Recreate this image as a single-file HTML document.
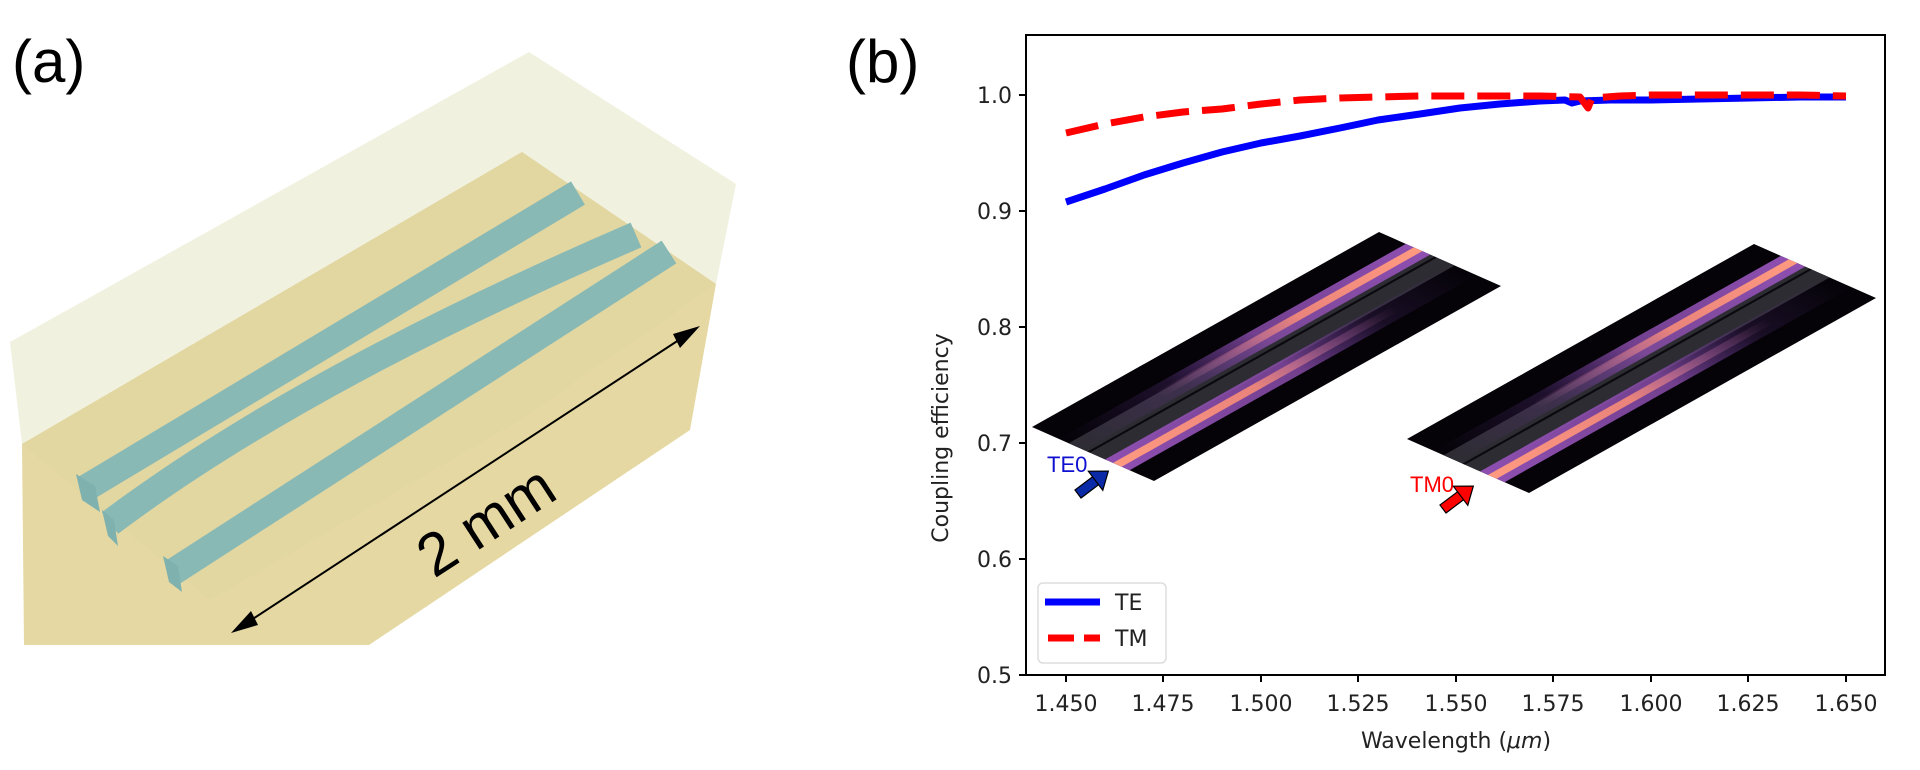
<!DOCTYPE html>
<html><head><meta charset="utf-8"><style>
html,body{margin:0;padding:0;background:#fff;}
svg{display:block;font-family:"DejaVu Sans","Liberation Sans",sans-serif;}
</style></head><body>
<svg width="1920" height="770" viewBox="0 0 1920 770" xmlns="http://www.w3.org/2000/svg">
<defs>
 <linearGradient id="haloL" x1="0" y1="0" x2="1" y2="0">
  <stop offset="0" stop-color="#8e4fb0" stop-opacity="1"/>
  <stop offset="0.5" stop-color="#8e4fb0" stop-opacity="0.8"/>
  <stop offset="0.75" stop-color="#6a3a9a" stop-opacity="0.2"/>
  <stop offset="1" stop-color="#6a3a9a" stop-opacity="0"/>
 </linearGradient>
 <linearGradient id="coreL" x1="0" y1="0" x2="1" y2="0">
  <stop offset="0" stop-color="#ff9a80" stop-opacity="1"/>
  <stop offset="0.4" stop-color="#f58a78" stop-opacity="0.9"/>
  <stop offset="0.65" stop-color="#c070a0" stop-opacity="0.3"/>
  <stop offset="0.8" stop-color="#c070a0" stop-opacity="0"/>
 </linearGradient>
 <linearGradient id="haloU" x1="0" y1="0" x2="1" y2="0">
  <stop offset="0" stop-color="#6a3a9a" stop-opacity="0"/>
  <stop offset="0.3" stop-color="#6a3a9a" stop-opacity="0.25"/>
  <stop offset="0.55" stop-color="#8e4fb0" stop-opacity="0.8"/>
  <stop offset="1" stop-color="#8e4fb0" stop-opacity="1"/>
 </linearGradient>
 <linearGradient id="coreU" x1="0" y1="0" x2="1" y2="0">
  <stop offset="0.25" stop-color="#c070a0" stop-opacity="0"/>
  <stop offset="0.45" stop-color="#d07890" stop-opacity="0.4"/>
  <stop offset="0.65" stop-color="#f58a78" stop-opacity="0.9"/>
  <stop offset="1" stop-color="#ff9a80" stop-opacity="1"/>
 </linearGradient>
 <g id="inset">
  <rect x="0" y="0" width="1" height="1" fill="#050308"/>
  <rect x="0" y="0.3" width="1" height="0.32" fill="#2e2c33"/>
  <rect x="0" y="0.455" width="1" height="0.02" fill="#0a0a0e"/>
  <rect x="0" y="0.6" width="1" height="0.2" fill="url(#haloL)"/>
  <rect x="0" y="0.665" width="1" height="0.07" fill="url(#coreL)"/>
  <rect x="0" y="0.22" width="1" height="0.2" fill="url(#haloU)"/>
  <rect x="0" y="0.285" width="1" height="0.07" fill="url(#coreU)"/>
 </g>
 <g id="barrow">
  <rect x="0" y="-5" width="24" height="10"/>
  <polygon points="22,-12 38,0 22,12"/>
 </g>
</defs>

<text x="12" y="82" font-family="Liberation Sans, sans-serif" font-size="60" fill="#000">(a)</text>
<polygon points="10,342 529,52 736,184 716,284 22,444" fill="#f1f1e0"/>
<polygon points="22,444 522,152 716,284 690,430 369,645 210,645 24,645" fill="#e5d8a3"/>
<polygon points="22,444 522,152 716,284 520,420 210,600" fill="#e0d6a0" opacity="0.6"/>
<g stroke="#89b9b5" stroke-width="27" fill="none" stroke-linecap="butt">
 <line x1="86" y1="488" x2="578" y2="193"/>
 <path d="M110,523 Q300,380 636,235"/>
 <line x1="173" y1="572" x2="669" y2="252"/>
</g>
<g fill="#7fb2af">
 <polygon points="76,474 82,500 100,512 95,486"/>
 <polygon points="102,510 108,536 118,546 114,520"/>
 <polygon points="163,556 169,582 182,592 178,566"/>
</g>
<line x1="242" y1="626" x2="688" y2="334" stroke="#000" stroke-width="2"/>
<polygon points="231,633 251,611 258,625" fill="#000"/>
<polygon points="700,326 680,348 673,334" fill="#000"/>
<text x="0" y="0" font-family="Liberation Sans, sans-serif" font-size="60" fill="#000" text-anchor="middle" transform="translate(497,538) rotate(-33)">2 mm</text>

<text x="846" y="82" font-family="Liberation Sans, sans-serif" font-size="60" fill="#000">(b)</text>

<use href="#inset" transform="matrix(347,-195,122,54,1032,427)"/>
<use href="#inset" transform="matrix(347,-195,122,54,1407,439)"/>
<text x="1047" y="472" font-family="Liberation Sans, sans-serif" font-size="22" fill="#1010d0">TE0</text>
<use href="#barrow" fill="#0a2aa8" stroke="#000" stroke-width="1.2" transform="translate(1078,494) rotate(-37)"/>
<text x="1410" y="492" font-family="Liberation Sans, sans-serif" font-size="22" fill="#ff0000">TM0</text>
<use href="#barrow" fill="#ff0000" stroke="#000" stroke-width="1.2" transform="translate(1443,509) rotate(-37)"/>

<polyline fill="none" stroke="#0000ff" stroke-width="7" stroke-linejoin="round"
 points="1066,202 1105,189 1144,175 1183,163 1222,152 1261,143 1300,136 1340,128 1378,120 1420,114 1460,108 1500,104 1540,101 1565,100 1572,103 1580,101 1610,100 1651,100 1700,99 1750,98 1800,97 1846,97"/>
<polyline fill="none" stroke="#ff0000" stroke-width="7" stroke-dasharray="33 13" stroke-linejoin="round"
 points="1066,133 1105,124 1144,117 1183,112 1222,109 1261,104 1300,100 1340,98 1378,97 1420,96 1460,96 1500,96 1540,96 1580,97 1588,108 1592,98 1620,96 1651,95 1700,95 1750,95 1800,95 1846,96"/>

<rect x="1026" y="35" width="859" height="640" fill="none" stroke="#000" stroke-width="2"/>
<g stroke="#000" stroke-width="2">
 <line x1="1019" y1="675" x2="1026" y2="675"/>
 <line x1="1019" y1="559" x2="1026" y2="559"/>
 <line x1="1019" y1="443" x2="1026" y2="443"/>
 <line x1="1019" y1="327" x2="1026" y2="327"/>
 <line x1="1019" y1="211" x2="1026" y2="211"/>
 <line x1="1019" y1="95" x2="1026" y2="95"/>
</g>
<g font-size="22" fill="#222" text-anchor="end">
 <text x="1012" y="683">0.5</text>
 <text x="1012" y="567">0.6</text>
 <text x="1012" y="451">0.7</text>
 <text x="1012" y="335">0.8</text>
 <text x="1012" y="219">0.9</text>
 <text x="1012" y="103">1.0</text>
</g>
<g stroke="#000" stroke-width="2">
 <line x1="1066" y1="675" x2="1066" y2="682"/>
 <line x1="1163" y1="675" x2="1163" y2="682"/>
 <line x1="1261" y1="675" x2="1261" y2="682"/>
 <line x1="1358" y1="675" x2="1358" y2="682"/>
 <line x1="1456" y1="675" x2="1456" y2="682"/>
 <line x1="1553" y1="675" x2="1553" y2="682"/>
 <line x1="1651" y1="675" x2="1651" y2="682"/>
 <line x1="1748" y1="675" x2="1748" y2="682"/>
 <line x1="1846" y1="675" x2="1846" y2="682"/>
</g>
<g font-size="22" fill="#222" text-anchor="middle">
 <text x="1066" y="711">1.450</text>
 <text x="1163" y="711">1.475</text>
 <text x="1261" y="711">1.500</text>
 <text x="1358" y="711">1.525</text>
 <text x="1456" y="711">1.550</text>
 <text x="1553" y="711">1.575</text>
 <text x="1651" y="711">1.600</text>
 <text x="1748" y="711">1.625</text>
 <text x="1846" y="711">1.650</text>
</g>
<text x="1456" y="748" font-size="22" fill="#222" text-anchor="middle">Wavelength (<tspan font-style="italic">μm</tspan>)</text>
<text x="0" y="0" font-size="22" fill="#222" text-anchor="middle" transform="translate(948,438) rotate(-90)">Coupling efficiency</text>

<rect x="1038" y="583" width="128" height="80" rx="5" fill="#fff" stroke="#ddd" stroke-width="1.5"/>
<line x1="1045" y1="602" x2="1100" y2="602" stroke="#0000ff" stroke-width="7"/>
<line x1="1048" y1="638" x2="1100" y2="638" stroke="#ff0000" stroke-width="7" stroke-dasharray="26 10"/>
<text x="1115" y="610" font-size="22" fill="#222">TE</text>
<text x="1115" y="646" font-size="22" fill="#222">TM</text>
</svg>
</body></html>
